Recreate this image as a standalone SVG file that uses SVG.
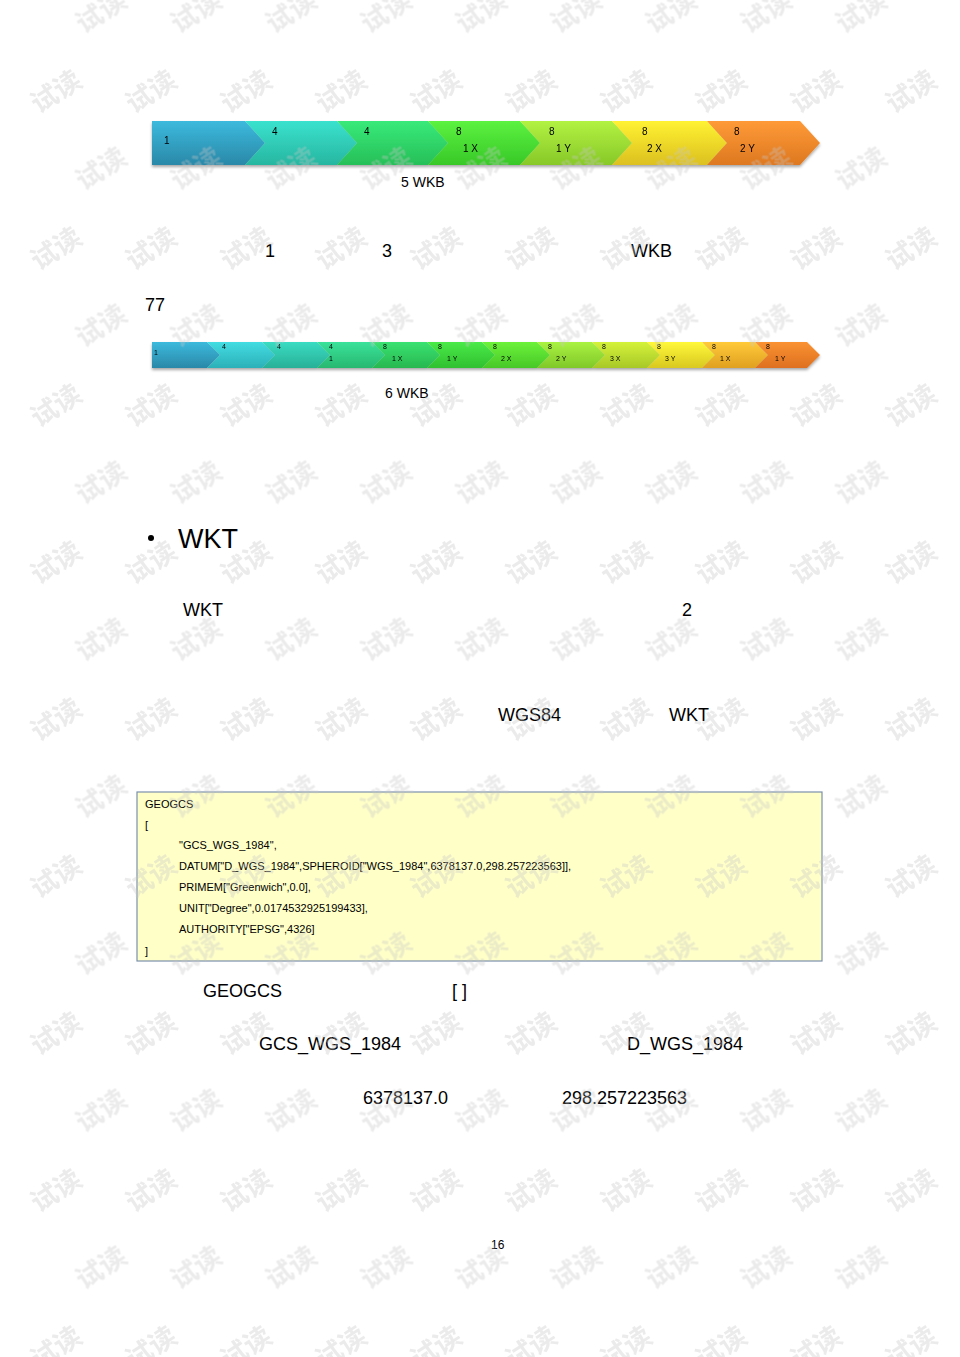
<svg xmlns="http://www.w3.org/2000/svg" width="960" height="1357" viewBox="0 0 960 1357">
<style>
text{font-family:"Liberation Sans",Arial,sans-serif;fill:#000}
.lb{font-size:10px}
.ls{font-size:7px}
.body{font-size:18px}
.code{font-size:11px}
.cap{font-size:14px}
.wm{font-family:"Noto Sans CJK SC",sans-serif;font-size:27px;font-weight:bold;fill:#c4c4c4;fill-opacity:.35}
</style>
<defs>
<filter id="sh" x="-5%" y="-20%" width="110%" height="160%"><feDropShadow dx="0" dy="2" stdDeviation="1.5" flood-color="#000" flood-opacity=".35"/></filter>
<linearGradient id="a1" x1="0" y1="0" x2="0" y2="1"><stop offset="0" stop-color="#3cbadd"/><stop offset="1" stop-color="#2a88a8"/></linearGradient>
<linearGradient id="a2" x1="0" y1="0" x2="0" y2="1"><stop offset="0" stop-color="#3ae2ce"/><stop offset="1" stop-color="#27b6a0"/></linearGradient>
<linearGradient id="a3" x1="0" y1="0" x2="0" y2="1"><stop offset="0" stop-color="#38ea7a"/><stop offset="1" stop-color="#27bf58"/></linearGradient>
<linearGradient id="a4" x1="0" y1="0" x2="0" y2="1"><stop offset="0" stop-color="#5cf240"/><stop offset="1" stop-color="#38c828"/></linearGradient>
<linearGradient id="a5" x1="0" y1="0" x2="0" y2="1"><stop offset="0" stop-color="#b2f242"/><stop offset="1" stop-color="#88c828"/></linearGradient>
<linearGradient id="a6" x1="0" y1="0" x2="0" y2="1"><stop offset="0" stop-color="#fff232"/><stop offset="1" stop-color="#dcc020"/></linearGradient>
<linearGradient id="a7" x1="0" y1="0" x2="0" y2="1"><stop offset="0" stop-color="#ff9a38"/><stop offset="1" stop-color="#de7820"/></linearGradient>
<linearGradient id="b2" x1="0" y1="0" x2="0" y2="1"><stop offset="0" stop-color="#42dde2"/><stop offset="1" stop-color="#2cb0b8"/></linearGradient>
<linearGradient id="b3" x1="0" y1="0" x2="0" y2="1"><stop offset="0" stop-color="#3adcc2"/><stop offset="1" stop-color="#28b098"/></linearGradient>
<linearGradient id="b4" x1="0" y1="0" x2="0" y2="1"><stop offset="0" stop-color="#3ae29a"/><stop offset="1" stop-color="#28b870"/></linearGradient>
<linearGradient id="b5" x1="0" y1="0" x2="0" y2="1"><stop offset="0" stop-color="#3ae272"/><stop offset="1" stop-color="#28b850"/></linearGradient>
<linearGradient id="b6" x1="0" y1="0" x2="0" y2="1"><stop offset="0" stop-color="#4aea48"/><stop offset="1" stop-color="#30c030"/></linearGradient>
<linearGradient id="b7" x1="0" y1="0" x2="0" y2="1"><stop offset="0" stop-color="#6cf23a"/><stop offset="1" stop-color="#48c828"/></linearGradient>
<linearGradient id="b8" x1="0" y1="0" x2="0" y2="1"><stop offset="0" stop-color="#aaf242"/><stop offset="1" stop-color="#80c828"/></linearGradient>
<linearGradient id="b9" x1="0" y1="0" x2="0" y2="1"><stop offset="0" stop-color="#d4f23a"/><stop offset="1" stop-color="#a8c828"/></linearGradient>
<linearGradient id="b10" x1="0" y1="0" x2="0" y2="1"><stop offset="0" stop-color="#fff83a"/><stop offset="1" stop-color="#d8c820"/></linearGradient>
<linearGradient id="b11" x1="0" y1="0" x2="0" y2="1"><stop offset="0" stop-color="#ffca3a"/><stop offset="1" stop-color="#e0a020"/></linearGradient>
<linearGradient id="b13" x1="0" y1="0" x2="0" y2="1"><stop offset="0" stop-color="#fa9232"/><stop offset="1" stop-color="#de7020"/></linearGradient>
<pattern id="wmA" patternUnits="userSpaceOnUse" x="0" y="0" width="95" height="157">
<text class="wm" x="55" y="90" text-anchor="middle" dominant-baseline="central" transform="rotate(-33 55 90)">试读</text>
</pattern>
<pattern id="wmB" patternUnits="userSpaceOnUse" x="52.5" y="-68.5" width="95" height="157">
<text class="wm" x="47.5" y="78.5" text-anchor="middle" dominant-baseline="central" transform="rotate(-33 47.5 78.5)">试读</text>
</pattern>
</defs>
<rect width="960" height="1357" fill="#fff"/>

<g id="bar5" filter="url(#sh)">
<g id="s5-1"><path d="M152 121H245L265 143L245 165H152Z" fill="url(#a1)"/><text class="lb" x="164" y="144">1</text></g>
<g id="s5-2"><path d="M245 121H337L357 143L337 165H245L265 143Z" fill="url(#a2)"/><text class="lb" x="272" y="135">4</text></g>
<g id="s5-3"><path d="M337 121H428L448 143L428 165H337L357 143Z" fill="url(#a3)"/><text class="lb" x="364" y="135">4</text></g>
<g id="s5-4"><path d="M428 121H520L540 143L520 165H428L448 143Z" fill="url(#a4)"/><text class="lb" x="456" y="135">8</text><text class="lb" x="463" y="152">1 X</text></g>
<g id="s5-5"><path d="M520 121H612L632 143L612 165H520L540 143Z" fill="url(#a5)"/><text class="lb" x="549" y="135">8</text><text class="lb" x="556" y="152">1 Y</text></g>
<g id="s5-6"><path d="M612 121H707L727 143L707 165H612L632 143Z" fill="url(#a6)"/><text class="lb" x="642" y="135">8</text><text class="lb" x="647" y="152">2 X</text></g>
<g id="s5-7"><path d="M707 121H800L820 143L800 165H707L727 143Z" fill="url(#a7)"/><text class="lb" x="734" y="135">8</text><text class="lb" x="740" y="152">2 Y</text></g>
</g>
<text class="cap" x="401" y="187">5 WKB</text>

<text class="body" x="265" y="257">1</text>
<text class="body" x="382" y="257">3</text>
<text class="body" x="631" y="257">WKB</text>
<text class="body" x="145" y="311">77</text>

<g id="bar6" filter="url(#sh)">
<g id="s6-1"><path d="M152 342H207L220 355L207 368H152Z" fill="url(#a1)"/><text class="ls" x="154" y="355">1</text></g>
<g id="s6-2"><path d="M207 342H262L275 355L262 368H207L220 355Z" fill="url(#b2)"/><text class="ls" x="222" y="349">4</text></g>
<g id="s6-3"><path d="M262 342H317L330 355L317 368H262L275 355Z" fill="url(#b3)"/><text class="ls" x="277" y="349">4</text></g>
<g id="s6-4"><path d="M317 342H372L385 355L372 368H317L330 355Z" fill="url(#b4)"/><text class="ls" x="329" y="349">4</text><text class="ls" x="329" y="361">1</text></g>
<g id="s6-5"><path d="M372 342H427L440 355L427 368H372L385 355Z" fill="url(#b5)"/><text class="ls" x="383" y="349">8</text><text class="ls" x="392" y="361">1 X</text></g>
<g id="s6-6"><path d="M427 342H482L495 355L482 368H427L440 355Z" fill="url(#b6)"/><text class="ls" x="438" y="349">8</text><text class="ls" x="447" y="361">1 Y</text></g>
<g id="s6-7"><path d="M482 342H537L550 355L537 368H482L495 355Z" fill="url(#b7)"/><text class="ls" x="493" y="349">8</text><text class="ls" x="501" y="361">2 X</text></g>
<g id="s6-8"><path d="M537 342H592L605 355L592 368H537L550 355Z" fill="url(#b8)"/><text class="ls" x="548" y="349">8</text><text class="ls" x="556" y="361">2 Y</text></g>
<g id="s6-9"><path d="M592 342H647L660 355L647 368H592L605 355Z" fill="url(#b9)"/><text class="ls" x="602" y="349">8</text><text class="ls" x="610" y="361">3 X</text></g>
<g id="s6-10"><path d="M647 342H702L715 355L702 368H647L660 355Z" fill="url(#b10)"/><text class="ls" x="657" y="349">8</text><text class="ls" x="665" y="361">3 Y</text></g>
<g id="s6-11"><path d="M702 342H755L768 355L755 368H702L715 355Z" fill="url(#b11)"/><text class="ls" x="712" y="349">8</text><text class="ls" x="720" y="361">1 X</text></g>
<g id="s6-12"><path d="M755 342H807L820 355L807 368H755L768 355Z" fill="url(#b13)"/><text class="ls" x="766" y="349">8</text><text class="ls" x="775" y="361">1 Y</text></g>
</g>
<text class="cap" x="385" y="398">6 WKB</text>

<circle cx="151" cy="538" r="3" fill="#000"/>
<text x="178" y="548" style="font-size:27px">WKT</text>
<text class="body" x="183" y="616">WKT</text>
<text class="body" x="682" y="616">2</text>
<text class="body" x="498" y="721">WGS84</text>
<text class="body" x="669" y="721">WKT</text>

<g id="codebox">
<rect x="137" y="792" width="685" height="169" fill="#ffffc8" stroke="#7a90ac" stroke-width="1.2"/>
<text class="code" x="145" y="808">GEOGCS</text>
<text class="code" x="145" y="829">[</text>
<text class="code" x="179" y="849">"GCS_WGS_1984",</text>
<text class="code" x="179" y="870">DATUM["D_WGS_1984",SPHEROID["WGS_1984",6378137.0,298.257223563]],</text>
<text class="code" x="179" y="891">PRIMEM["Greenwich",0.0],</text>
<text class="code" x="179" y="912">UNIT["Degree",0.0174532925199433],</text>
<text class="code" x="179" y="933">AUTHORITY["EPSG",4326]</text>
<text class="code" x="145" y="955">]</text>
</g>

<text class="body" x="203" y="997">GEOGCS</text>
<text class="body" x="452" y="997">[ ]</text>
<text class="body" x="259" y="1050">GCS_WGS_1984</text>
<text class="body" x="627" y="1050">D_WGS_1984</text>
<text class="body" x="363" y="1104">6378137.0</text>
<text class="body" x="562" y="1104">298.257223563</text>
<text x="491" y="1249" style="font-size:12px">16</text>

<g id="connectors"/>
<g id="watermark">
<rect width="960" height="1357" fill="url(#wmA)"/>
<rect x="52.5" width="855" height="1357" fill="url(#wmB)"/>
</g>
</svg>
